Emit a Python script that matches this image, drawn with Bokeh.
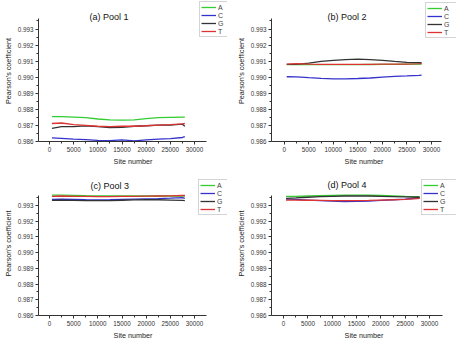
from bokeh.plotting import figure
from bokeh.layouts import gridplot
from bokeh.models import Legend, LegendItem, NumeralTickFormatter, FixedTicker, Range1d, Label
from bokeh.embed import file_html
from bokeh.resources import INLINE

# ---- data ----
site = [500, 2500, 5000, 7500, 10000, 12500, 15000, 17500, 20000, 22500, 25000, 27500, 28000]
bases = ["A", "C", "G", "T"]
colors = {"A": "#33cc33", "C": "#3333cc", "G": "#333333", "T": "#dd3333"}

pool1 = {
    "A": [0.98755, 0.98755, 0.98752, 0.98748, 0.98740, 0.98735, 0.98733, 0.98735, 0.98742, 0.98748, 0.98750, 0.98752, 0.98752],
    "C": [0.98622, 0.98620, 0.98615, 0.98612, 0.98607, 0.98605, 0.98610, 0.98604, 0.98610, 0.98615, 0.98618, 0.98625, 0.98630],
    "G": [0.98682, 0.98692, 0.98692, 0.98697, 0.98692, 0.98686, 0.98688, 0.98695, 0.98698, 0.98702, 0.98702, 0.98708, 0.98695],
    "T": [0.98712, 0.98715, 0.98705, 0.98700, 0.98695, 0.98692, 0.98695, 0.98695, 0.98698, 0.98702, 0.98705, 0.98710, 0.98712],
}
pool2 = {
    "A": [0.99078, 0.99078, 0.99078, 0.99078, 0.99078, 0.99078, 0.99078, 0.99079, 0.99080, 0.99080, 0.99081, 0.99082, 0.99082],
    "C": [0.99003, 0.99002, 0.98997, 0.98993, 0.98990, 0.98990, 0.98992, 0.98995, 0.99000, 0.99005, 0.99008, 0.99012, 0.99013],
    "G": [0.99080, 0.99080, 0.99088, 0.99098, 0.99105, 0.99110, 0.99112, 0.99110, 0.99105, 0.99098, 0.99092, 0.99090, 0.99090],
    "T": [0.99082, 0.99085, 0.99082, 0.99080, 0.99080, 0.99080, 0.99080, 0.99080, 0.99081, 0.99082, 0.99082, 0.99084, 0.99085],
}
pool3 = {
    "A": [0.99366, 0.99366, 0.99364, 0.99362, 0.99361, 0.99360, 0.99360, 0.99360, 0.99360, 0.99360, 0.99360, 0.99360, 0.99360],
    "C": [0.99338, 0.99340, 0.99338, 0.99336, 0.99335, 0.99336, 0.99338, 0.99340, 0.99342, 0.99343, 0.99346, 0.99350, 0.99345],
    "G": [0.99332, 0.99334, 0.99332, 0.99330, 0.99330, 0.99331, 0.99333, 0.99335, 0.99337, 0.99336, 0.99334, 0.99332, 0.99330],
    "T": [0.99358, 0.99360, 0.99358, 0.99357, 0.99356, 0.99356, 0.99357, 0.99358, 0.99359, 0.99360, 0.99361, 0.99363, 0.99363],
}
pool4 = {
    "A": [0.99358, 0.99358, 0.99360, 0.99362, 0.99364, 0.99365, 0.99365, 0.99365, 0.99363, 0.99361, 0.99358, 0.99356, 0.99355],
    "C": [0.99340, 0.99338, 0.99334, 0.99330, 0.99327, 0.99325, 0.99326, 0.99328, 0.99332, 0.99336, 0.99340, 0.99346, 0.99350],
    "G": [0.99345, 0.99348, 0.99352, 0.99356, 0.99358, 0.99360, 0.99360, 0.99360, 0.99358, 0.99356, 0.99354, 0.99352, 0.99352],
    "T": [0.99334, 0.99334, 0.99333, 0.99332, 0.99331, 0.99330, 0.99331, 0.99332, 0.99334, 0.99336, 0.99339, 0.99343, 0.99345],
}
titles = ["(a)  Pool 1", "(b)  Pool 2", "(c)  Pool 3", "(d)  Pool 4"]
y_ticks = [0.986, 0.987, 0.988, 0.989, 0.990, 0.991, 0.992, 0.993]
x_ticks = [0, 5000, 10000, 15000, 20000, 25000, 30000]
Y_LO, Y_HI, Y_AXIS_TOP = 0.986, 0.993, 0.99365

FONT = "Liberation Sans"
FIG_W, FIG_H = 229, 171


def make_panel(data, title, bl, bb, px0, px30k, axis_end_px, py_hi, title_pos, leg_loc):
    """px*/py* are pixel anchors (figure coords) of the layout: frame left = bl, frame top = 0."""
    frame_w = FIG_W - bl - 2
    frame_h = FIG_H - bb
    upx = 30000.0 / (px30k - px0)          # data units per pixel (x)
    x_lo = (bl - px0) * upx
    x_hi = x_lo + frame_w * upx
    x_axis_end = x_lo + (axis_end_px - bl) * upx
    upy = (Y_HI - Y_LO) / (frame_h - py_hi)  # data units per pixel (y)
    y_hi = Y_LO + frame_h * upy

    p = figure(width=FIG_W, height=FIG_H, output_backend="svg", toolbar_location=None,
               x_range=Range1d(x_lo, x_hi), y_range=Range1d(Y_LO, y_hi),
               min_border_left=bl, min_border_right=2, min_border_top=0, min_border_bottom=bb)
    p.outline_line_color = None
    p.grid.visible = False
    p.background_fill_color = "white"
    p.border_fill_color = "white"

    for ax in (p.xaxis[0], p.yaxis[0]):
        ax.axis_line_color = "#333333"
        ax.major_tick_line_color = "#333333"
        ax.minor_tick_line_color = "#333333"
        ax.major_tick_out = 3
        ax.major_tick_in = 0
        ax.minor_tick_out = 2
        ax.minor_tick_in = 0
        ax.major_label_text_font = FONT
        ax.major_label_text_font_size = "6.3px"
        ax.major_label_text_color = "#333333"
        ax.axis_label_text_font = FONT
        ax.axis_label_text_font_size = "7.2px"
        ax.axis_label_text_font_style = "normal"
        ax.axis_label_text_color = "#222222"
        ax.major_label_standoff = 2
        ax.axis_label_standoff = 2

    p.xaxis.ticker = FixedTicker(ticks=x_ticks, minor_ticks=[t + 2500 for t in x_ticks[:-1]])
    p.xaxis.formatter = NumeralTickFormatter(format="0")
    p.xaxis.bounds = (x_lo, x_axis_end)
    p.yaxis.ticker = FixedTicker(ticks=y_ticks, minor_ticks=[t + 0.0005 for t in y_ticks])
    p.yaxis.formatter = NumeralTickFormatter(format="0.000")
    p.yaxis.bounds = (Y_LO, Y_AXIS_TOP)
    p.xaxis.axis_label = "Site number"
    p.yaxis.axis_label = "Pearson's coefficient"

    p.add_layout(Label(x=title_pos[0], y=title_pos[1], x_units="screen", y_units="screen",
                       text=title, text_font=FONT, text_font_size="9px",
                       text_baseline="middle", text_color="#111111"))

    items = []
    for b in bases:
        r = p.line(site, data[b], line_color=colors[b], line_width=1.3)
        items.append(LegendItem(label=b, renderers=[r]))
    leg = Legend(items=items, location=leg_loc)
    leg.label_text_font = FONT
    leg.label_text_font_size = "7px"
    leg.label_height = 8
    leg.glyph_height = 8
    leg.glyph_width = 15
    leg.spacing = 0
    leg.padding = 1
    leg.margin = 0
    leg.label_standoff = 2
    leg.border_line_color = "#aaaaaa"
    leg.border_line_width = 1
    leg.background_fill_alpha = 1.0
    p.add_layout(leg)
    return p


pa = make_panel(pool1, titles[0], 38, 30, 49.0, 194.0, 205.8, 28.5, (51, 125), (161, 104))
pb = make_panel(pool2, titles[1], 42, 30, 54.8, 201.9, 211.6, 28.5, (56, 125), (154, 103))
pc = make_panel(pool3, titles[2], 38, 25, 49.0, 194.0, 205.8, 34.4, (52, 130), (160, 100))
pd = make_panel(pool4, titles[3], 42, 25, 54.1, 200.0, 212.5, 34.4, (56, 131), (150, 100))

grid = gridplot([[pa, pb], [pc, pd]], toolbar_location=None)
open("out.html", "w").write(file_html(grid, INLINE))
